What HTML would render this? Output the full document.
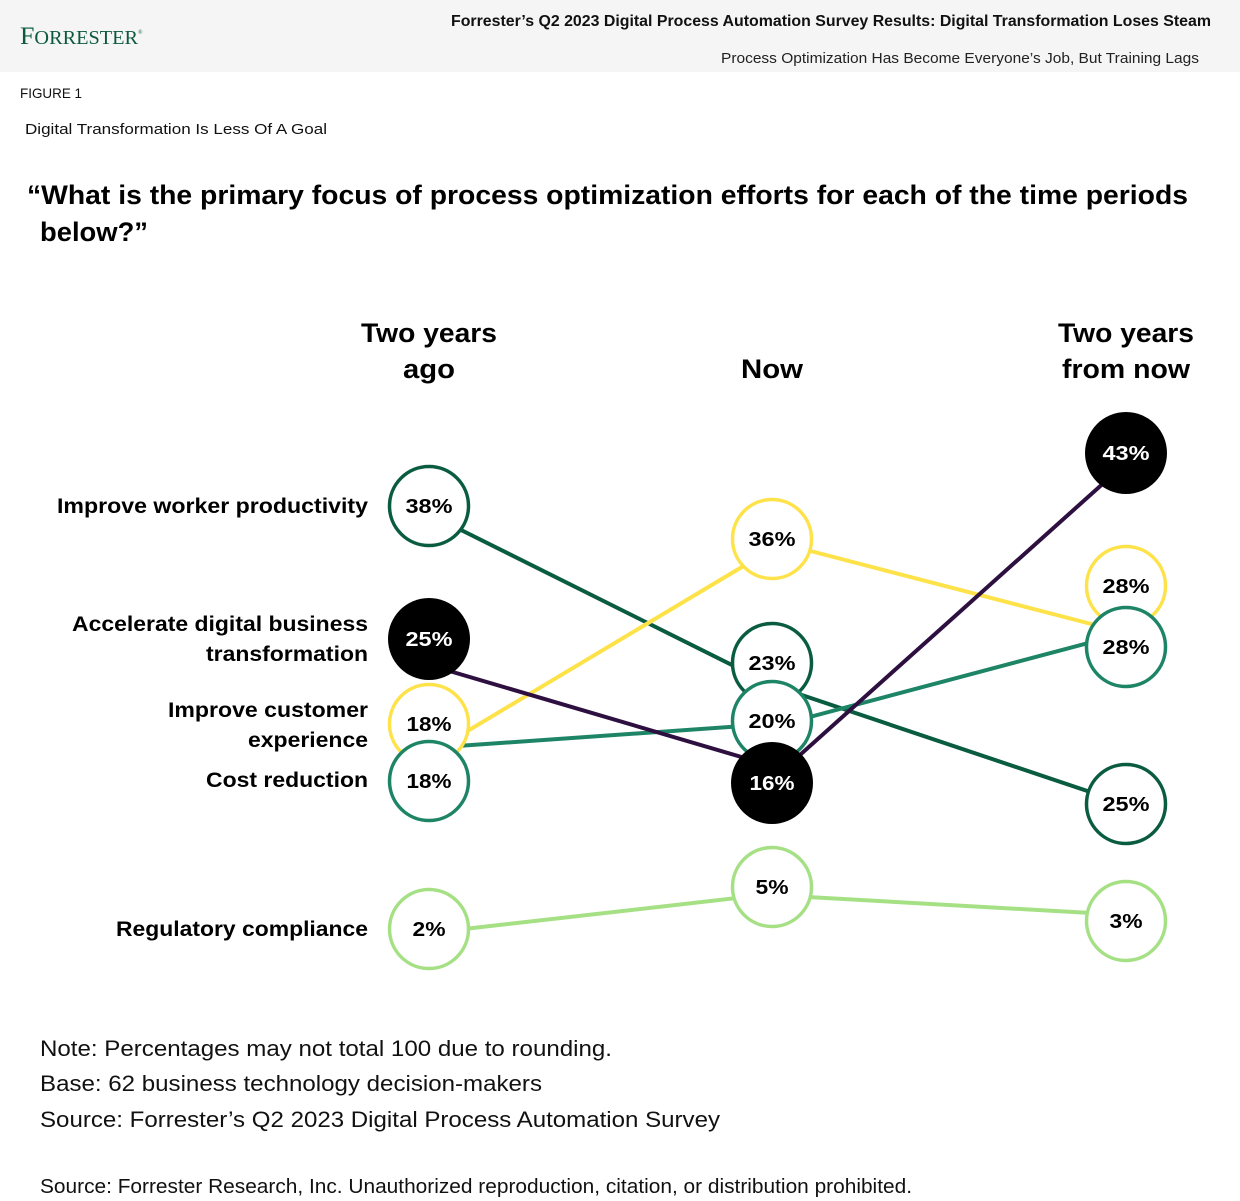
<!DOCTYPE html>
<html><head><meta charset="utf-8"><style>
html,body{margin:0;padding:0;background:#fff;}
svg{display:block;}
text{font-family:"Liberation Sans",sans-serif;}
</style></head><body>
<svg width="1240" height="1201" viewBox="0 0 1240 1201" xmlns="http://www.w3.org/2000/svg">
<rect x="0" y="0" width="1240" height="1201" fill="#fff"/>
<rect x="0" y="0" width="1240" height="72" fill="#f5f5f5"/>
<text x="20" y="44" style="font-family:'Liberation Serif',serif" fill="#0b5a3e" font-size="25" textLength="118" lengthAdjust="spacingAndGlyphs">F<tspan font-size="19.5">ORRESTER</tspan></text>
<text x="138" y="34" style="font-family:'Liberation Serif',serif" fill="#0b5a3e" font-size="6">®</text>
<text x="451" y="26" font-size="16" font-weight="bold" fill="#111" textLength="760" lengthAdjust="spacingAndGlyphs">Forrester’s Q2 2023 Digital Process Automation Survey Results: Digital Transformation Loses Steam</text>
<text x="721" y="63" font-size="15" fill="#222" textLength="478" lengthAdjust="spacingAndGlyphs">Process Optimization Has Become Everyone’s Job, But Training Lags</text>
<text x="20" y="98" font-size="14" fill="#111" textLength="62" lengthAdjust="spacingAndGlyphs">FIGURE 1</text>
<text x="25" y="134" font-size="15" fill="#111" textLength="302" lengthAdjust="spacingAndGlyphs">Digital Transformation Is Less Of A Goal</text>
<text x="27" y="204" font-size="27" font-weight="bold" fill="#000" textLength="1161" lengthAdjust="spacingAndGlyphs">“What is the primary focus of process optimization efforts for each of the time periods</text>
<text x="40" y="241" font-size="27" font-weight="bold" fill="#000" textLength="108" lengthAdjust="spacingAndGlyphs">below?”</text>

<g font-size="27" font-weight="bold" fill="#000" text-anchor="middle">
<text x="429" y="342" textLength="136" lengthAdjust="spacingAndGlyphs">Two years</text>
<text x="429" y="378" textLength="52" lengthAdjust="spacingAndGlyphs">ago</text>
<text x="772" y="378" textLength="62" lengthAdjust="spacingAndGlyphs">Now</text>
<text x="1126" y="342" textLength="136" lengthAdjust="spacingAndGlyphs">Two years</text>
<text x="1126" y="378" textLength="128" lengthAdjust="spacingAndGlyphs">from now</text>
</g>

<g font-size="21" font-weight="bold" fill="#000" text-anchor="end">
<text x="368" y="513" textLength="311" lengthAdjust="spacingAndGlyphs">Improve worker productivity</text>
<text x="368" y="631" textLength="296" lengthAdjust="spacingAndGlyphs">Accelerate digital business</text>
<text x="368" y="661" textLength="162" lengthAdjust="spacingAndGlyphs">transformation</text>
<text x="368" y="717" textLength="200" lengthAdjust="spacingAndGlyphs">Improve customer</text>
<text x="368" y="747" textLength="120" lengthAdjust="spacingAndGlyphs">experience</text>
<text x="368" y="787" textLength="162" lengthAdjust="spacingAndGlyphs">Cost reduction</text>
<text x="368" y="936" textLength="252" lengthAdjust="spacingAndGlyphs">Regulatory compliance</text>
</g>

<!-- lines -->
<g stroke-width="4" fill="none" stroke-linecap="butt">
<line x1="429" y1="514" x2="772" y2="685" stroke="#0a5c41"/>
<line x1="772" y1="685" x2="1126" y2="804" stroke="#0a5c41"/>
<line x1="429" y1="754" x2="772" y2="549" stroke="#fde24a"/>
<line x1="772" y1="541" x2="1126" y2="633" stroke="#fde24a"/>
<line x1="429" y1="748" x2="772" y2="724" stroke="#1e8466"/>
<line x1="772" y1="727" x2="1126" y2="633" stroke="#1e8466"/>
<line x1="429" y1="665" x2="772" y2="766" stroke="#2e1040"/>
<line x1="772" y1="780" x2="1126" y2="463" stroke="#2e1040"/>
<line x1="429" y1="933" x2="772" y2="894" stroke="#a6e085"/>
<line x1="772" y1="895" x2="1126" y2="915" stroke="#a6e085"/>
</g>

<!-- circles -->
<g stroke-width="3.5" fill="#fff">
<circle cx="429" cy="506" r="39.5" stroke="#0a5c41"/>
<circle cx="429" cy="639" r="41" fill="#000" stroke="none"/>
<circle cx="429" cy="724" r="39.5" stroke="#fde24a"/>
<circle cx="429" cy="781" r="39.5" stroke="#1e8466"/>
<circle cx="429" cy="929" r="39.5" stroke="#a6e085"/>

<circle cx="772" cy="539" r="39.5" stroke="#fde24a"/>
<circle cx="772" cy="663" r="39.5" stroke="#0a5c41"/>
<circle cx="772" cy="721" r="39.5" stroke="#1e8466"/>
<circle cx="772" cy="783" r="41" fill="#000" stroke="none"/>
<circle cx="772" cy="887" r="39.5" stroke="#a6e085"/>

<circle cx="1126" cy="453" r="41" fill="#000" stroke="none"/>
<circle cx="1126" cy="586" r="39.5" stroke="#fde24a"/>
<circle cx="1126" cy="647" r="39.5" stroke="#1e8466"/>
<circle cx="1126" cy="804" r="39.5" stroke="#0a5c41"/>
<circle cx="1126" cy="921" r="39.5" stroke="#a6e085"/>
</g>

<g font-size="20" font-weight="bold" fill="#000" text-anchor="middle">
<text x="429" y="513" textLength="47" lengthAdjust="spacingAndGlyphs">38%</text>
<text x="429" y="646" fill="#fff" textLength="47" lengthAdjust="spacingAndGlyphs">25%</text>
<text x="429" y="731" textLength="45" lengthAdjust="spacingAndGlyphs">18%</text>
<text x="429" y="788" textLength="45" lengthAdjust="spacingAndGlyphs">18%</text>
<text x="429" y="936" textLength="33" lengthAdjust="spacingAndGlyphs">2%</text>

<text x="772" y="546" textLength="47" lengthAdjust="spacingAndGlyphs">36%</text>
<text x="772" y="670" textLength="47" lengthAdjust="spacingAndGlyphs">23%</text>
<text x="772" y="728" textLength="47" lengthAdjust="spacingAndGlyphs">20%</text>
<text x="772" y="790" fill="#fff" textLength="45" lengthAdjust="spacingAndGlyphs">16%</text>
<text x="772" y="894" textLength="33" lengthAdjust="spacingAndGlyphs">5%</text>

<text x="1126" y="460" fill="#fff" textLength="47" lengthAdjust="spacingAndGlyphs">43%</text>
<text x="1126" y="593" textLength="47" lengthAdjust="spacingAndGlyphs">28%</text>
<text x="1126" y="654" textLength="47" lengthAdjust="spacingAndGlyphs">28%</text>
<text x="1126" y="811" textLength="47" lengthAdjust="spacingAndGlyphs">25%</text>
<text x="1126" y="928" textLength="33" lengthAdjust="spacingAndGlyphs">3%</text>
</g>

<g font-size="22" fill="#111">
<text x="40" y="1056" textLength="572" lengthAdjust="spacingAndGlyphs">Note: Percentages may not total 100 due to rounding.</text>
<text x="40" y="1091" textLength="502" lengthAdjust="spacingAndGlyphs">Base: 62 business technology decision-makers</text>
<text x="40" y="1127" textLength="680" lengthAdjust="spacingAndGlyphs">Source: Forrester’s Q2 2023 Digital Process Automation Survey</text>
<text x="40" y="1193" font-size="20" textLength="872" lengthAdjust="spacingAndGlyphs">Source: Forrester Research, Inc. Unauthorized reproduction, citation, or distribution prohibited.</text>
</g>
</svg>
</body></html>
